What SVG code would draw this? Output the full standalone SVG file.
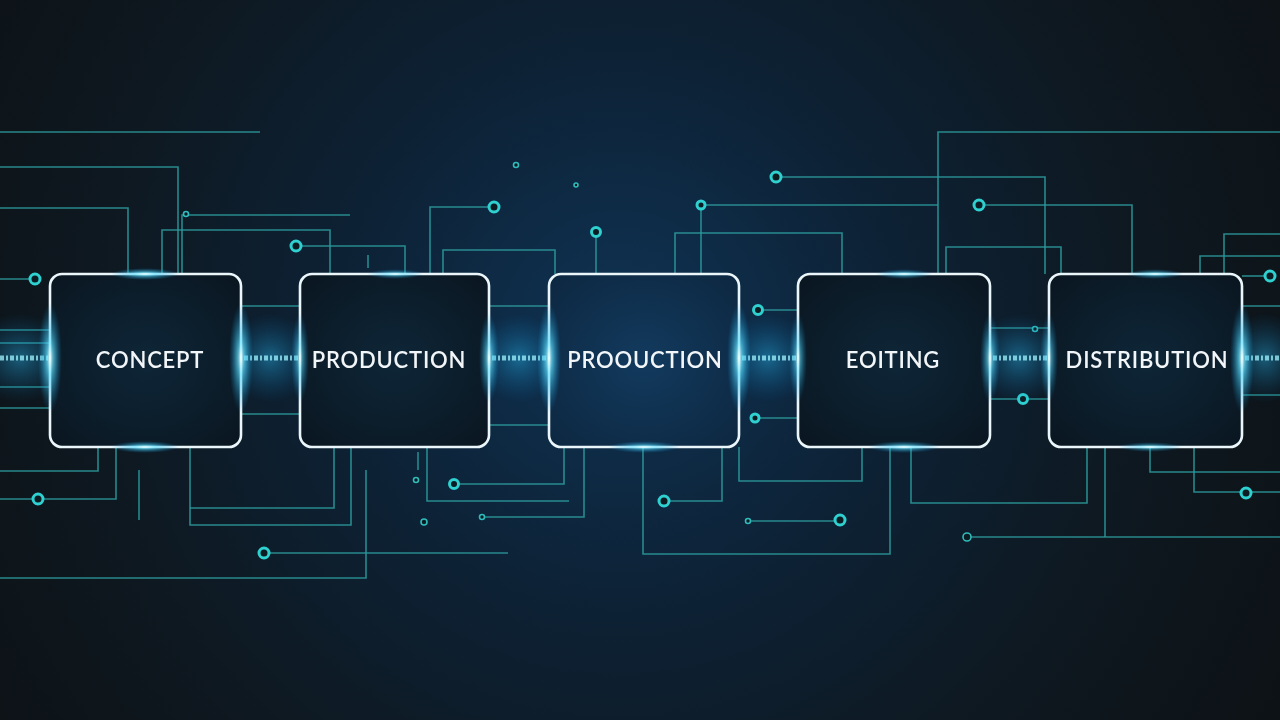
<svg xmlns="http://www.w3.org/2000/svg" width="1280" height="720" viewBox="0 0 1280 720">
<defs>
<radialGradient id="bg" cx="620" cy="330" r="760" gradientUnits="userSpaceOnUse">
<stop offset="0" stop-color="#0f3354"/>
<stop offset="0.35" stop-color="#0d2236"/>
<stop offset="0.7" stop-color="#0e1820"/>
<stop offset="1" stop-color="#0d1216"/>
</radialGradient>
<radialGradient id="glow" cx="0.5" cy="0.5" r="0.5">
<stop offset="0" stop-color="#f0ffff" stop-opacity="1"/>
<stop offset="0.3" stop-color="#5fe0ff" stop-opacity="0.75"/>
<stop offset="1" stop-color="#0a8fd0" stop-opacity="0"/>
</radialGradient>
<radialGradient id="halo" cx="0.5" cy="0.5" r="0.5">
<stop offset="0" stop-color="#2ab8f0" stop-opacity="0.45"/>
<stop offset="1" stop-color="#0a6fb0" stop-opacity="0"/>
</radialGradient>
<radialGradient id="boxfill" cx="0.5" cy="0.5" r="0.7">
<stop offset="0" stop-color="#0e2638"/>
<stop offset="1" stop-color="#0a1620"/>
</radialGradient>
<radialGradient id="boxfill3" cx="0.5" cy="0.5" r="0.7">
<stop offset="0" stop-color="#123a5e"/>
<stop offset="1" stop-color="#0d2740"/>
</radialGradient>
<filter id="soft" x="-20%" y="-20%" width="140%" height="140%"><feGaussianBlur stdDeviation="0.5"/></filter>
</defs>
<style>
.ln{fill:none;stroke:#2a9c9e;stroke-width:1.6;opacity:0.85}
.dot{fill:#0c1a22;stroke:#2fd0d0;stroke-width:3}
.sdot{fill:#0c1a22;stroke:#2fbcbc;stroke-width:1.6}
.box{stroke:#eaf6fa;stroke-width:2.6}
.lbl{font-family:"Lato","Liberation Sans",sans-serif;font-size:22px;font-weight:600;fill:#f2f6f8;text-anchor:middle;letter-spacing:0.8px}
.data{fill:none;stroke:#9ff4ff;stroke-width:5;stroke-dasharray:4 2 2 2;opacity:0.75}
</style>
<rect width="1280" height="720" fill="url(#bg)"/>

<g id="connectors" filter="url(#soft)">
<path class="ln" d="M0 132H260"/>
<path class="ln" d="M0 167H178V274"/>
<path class="ln" d="M0 208H128V274"/>
<path class="ln" d="M182 274V215H350"/>
<path class="ln" d="M162 274V230H330V274"/>
<path class="ln" d="M296 246H405V274"/>
<path class="ln" d="M0 279H35"/>
<path class="ln" d="M494 207H430V274"/>
<path class="ln" d="M443 274V250H555V274"/>
<path class="ln" d="M596 232V274"/>
<path class="ln" d="M368 255V268"/>
<path class="ln" d="M938 274V132H1280"/>
<path class="ln" d="M776 177H1045V274"/>
<path class="ln" d="M946 274V247H1061V274"/>
<path class="ln" d="M701 205H938"/>
<path class="ln" d="M701 205V274"/>
<path class="ln" d="M675 274V233H842V274"/>
<path class="ln" d="M979 205H1132V274"/>
<path class="ln" d="M1224 274V234H1280"/>
<path class="ln" d="M1200 274V256H1280"/>
<path class="ln" d="M1242 276H1270"/>
<path class="ln" d="M0 330H50"/>
<path class="ln" d="M0 343H50"/>
<path class="ln" d="M0 387H50"/>
<path class="ln" d="M0 408H50"/>
<path class="ln" d="M241 306H300"/>
<path class="ln" d="M241 414H300"/>
<path class="ln" d="M489 306H549"/>
<path class="ln" d="M489 425H549"/>
<path class="ln" d="M758 310H798"/>
<path class="ln" d="M755 418H798"/>
<path class="ln" d="M990 328H1049"/>
<path class="ln" d="M990 399H1049"/>
<path class="ln" d="M1242 306H1280"/>
<path class="ln" d="M1242 395H1280"/>
<path class="ln" d="M0 471H98V447"/>
<path class="ln" d="M0 499H116V447"/>
<path class="ln" d="M139 470V520"/>
<path class="ln" d="M190 447V525H351V447"/>
<path class="ln" d="M190 508H334V447"/>
<path class="ln" d="M0 578H366V470"/>
<path class="ln" d="M264 553H508"/>
<path class="ln" d="M454 484H564V447"/>
<path class="ln" d="M427 447V501H569"/>
<path class="ln" d="M418 452V470"/>
<path class="ln" d="M482 517H584V447"/>
<path class="ln" d="M643 447V554H890V447"/>
<path class="ln" d="M664 501H722V447"/>
<path class="ln" d="M739 447V481H862V447"/>
<path class="ln" d="M748 521H840"/>
<path class="ln" d="M967 537H1280"/>
<path class="ln" d="M1105 447V537"/>
<path class="ln" d="M911 447V503H1087V447"/>
<path class="ln" d="M1150 447V472H1280"/>
<path class="ln" d="M1194 447V492H1280"/>
<circle class="dot" cx="35" cy="279" r="5"/>
<circle class="dot" cx="296" cy="246" r="5"/>
<circle class="dot" cx="494" cy="207" r="5"/>
<circle class="sdot" cx="516" cy="165" r="2.5"/>
<circle class="sdot" cx="576" cy="185" r="2"/>
<circle class="dot" cx="596" cy="232" r="4.5"/>
<circle class="sdot" cx="186" cy="214" r="2.5"/>
<circle class="dot" cx="776" cy="177" r="5"/>
<circle class="dot" cx="701" cy="205" r="4"/>
<circle class="dot" cx="979" cy="205" r="5"/>
<circle class="dot" cx="1270" cy="276" r="5"/>
<circle class="dot" cx="758" cy="310" r="4.5"/>
<circle class="dot" cx="755" cy="418" r="4"/>
<circle class="sdot" cx="1035" cy="329" r="2.5"/>
<circle class="dot" cx="1023" cy="399" r="4.5"/>
<circle class="dot" cx="38" cy="499" r="5"/>
<circle class="dot" cx="264" cy="553" r="5"/>
<circle class="dot" cx="454" cy="484" r="4.5"/>
<circle class="sdot" cx="416" cy="480" r="2.5"/>
<circle class="sdot" cx="424" cy="522" r="3"/>
<circle class="sdot" cx="482" cy="517" r="2.5"/>
<circle class="dot" cx="664" cy="501" r="5"/>
<circle class="sdot" cx="748" cy="521" r="2.5"/>
<circle class="dot" cx="840" cy="520" r="5"/>
<circle class="sdot" cx="967" cy="537" r="4"/>
<circle class="dot" cx="1246" cy="493" r="5"/>
</g>

<g id="halos">
<ellipse cx="20" cy="358" rx="50" ry="45" fill="url(#halo)"/>
<ellipse cx="270" cy="358" rx="45" ry="45" fill="url(#halo)"/>
<ellipse cx="519" cy="358" rx="45" ry="45" fill="url(#halo)"/>
<ellipse cx="768" cy="358" rx="45" ry="45" fill="url(#halo)"/>
<ellipse cx="1019" cy="358" rx="45" ry="45" fill="url(#halo)"/>
<ellipse cx="1265" cy="358" rx="40" ry="45" fill="url(#halo)"/>
</g>

<g id="streams">
<path class="data" d="M0 358H48"/>
<path class="data" d="M244 358H298"/>
<path class="data" d="M492 358H547"/>
<path class="data" d="M742 358H796"/>
<path class="data" d="M993 358H1047"/>
<path class="data" d="M1245 358H1280"/>
</g>

<g id="node-concept">
<rect class="box" x="50" y="274" width="191" height="173" rx="12" fill="url(#boxfill)"/>
<text class="lbl" x="150" y="368">CONCEPT</text>
</g>
<g id="node-production-1">
<rect class="box" x="300" y="274" width="189" height="173" rx="12" fill="url(#boxfill)"/>
<text class="lbl" x="389" y="368">PRODUCTION</text>
</g>
<g id="node-production-2">
<rect class="box" x="549" y="274" width="190" height="173" rx="12" fill="url(#boxfill3)"/>
<text class="lbl" x="645" y="368">PROOUCTION</text>
</g>
<g id="node-editing">
<rect class="box" x="798" y="274" width="192" height="173" rx="12" fill="url(#boxfill)"/>
<text class="lbl" x="893" y="368">EOITING</text>
</g>
<g id="node-distribution">
<rect class="box" x="1049" y="274" width="193" height="173" rx="12" fill="url(#boxfill)"/>
<text class="lbl" x="1147" y="368">DISTRIBUTION</text>
</g>

<g id="glows">
<ellipse cx="50" cy="358" rx="12" ry="55" fill="url(#glow)" opacity="0.9"/>
<ellipse cx="241" cy="358" rx="12" ry="55" fill="url(#glow)" opacity="0.9"/>
<ellipse cx="300" cy="358" rx="9" ry="45" fill="url(#glow)" opacity="0.7"/>
<ellipse cx="489" cy="358" rx="10" ry="45" fill="url(#glow)" opacity="0.8"/>
<ellipse cx="549" cy="358" rx="12" ry="55" fill="url(#glow)" opacity="0.9"/>
<ellipse cx="739" cy="358" rx="12" ry="55" fill="url(#glow)" opacity="0.9"/>
<ellipse cx="798" cy="358" rx="9" ry="45" fill="url(#glow)" opacity="0.7"/>
<ellipse cx="990" cy="358" rx="10" ry="45" fill="url(#glow)" opacity="0.8"/>
<ellipse cx="1049" cy="358" rx="9" ry="45" fill="url(#glow)" opacity="0.7"/>
<ellipse cx="1242" cy="358" rx="12" ry="55" fill="url(#glow)" opacity="0.9"/>
<ellipse cx="145" cy="274" rx="34" ry="6" fill="url(#glow)" opacity="0.9"/>
<ellipse cx="145" cy="447" rx="34" ry="6" fill="url(#glow)" opacity="0.9"/>
<ellipse cx="395" cy="274" rx="28" ry="5" fill="url(#glow)" opacity="0.7"/>
<ellipse cx="644" cy="447" rx="36" ry="6" fill="url(#glow)" opacity="0.8"/>
<ellipse cx="904" cy="274" rx="28" ry="5" fill="url(#glow)" opacity="0.7"/>
<ellipse cx="904" cy="447" rx="36" ry="6" fill="url(#glow)" opacity="0.8"/>
<ellipse cx="1155" cy="274" rx="28" ry="5" fill="url(#glow)" opacity="0.7"/>
<ellipse cx="1150" cy="447" rx="32" ry="5" fill="url(#glow)" opacity="0.7"/>
</g>
</svg>
